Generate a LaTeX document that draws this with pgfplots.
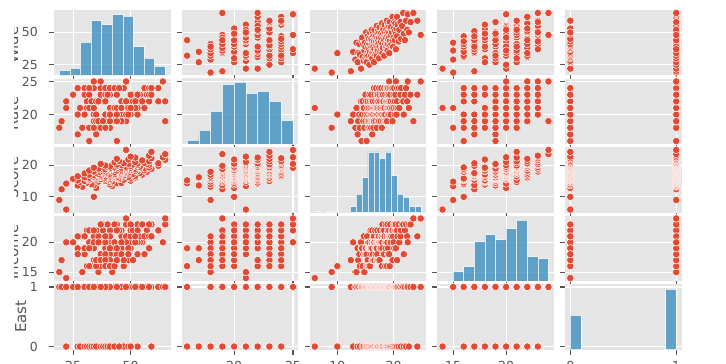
\documentclass[border=0pt]{standalone}
\usepackage{fontspec}
\setmainfont{DejaVu Sans}
\usepackage{pgfplots}
\pgfplotsset{compat=1.18}
\usepackage{pgfplotstable}
\definecolor{bggray}{HTML}{E5E5E5}
\definecolor{tickgray}{HTML}{555555}
\definecolor{scatred}{HTML}{E24A33}
\definecolor{histblue}{HTML}{348ABD}

\pgfplotstableread{
A B C D E
22 21 6.0 14 0
19 18 9.0 15 1
34 20 10.0 16 0
20 19 12.4 17 1
35 20 12.8 20 0
29 18 13.2 15 1
42 21 13.4 15 1
27 17 13.6 19 0
34 19 13.7 17 1
41 20 13.9 18 1
33 18 14.0 16 0
22 22 14.2 20 1
44 16 14.3 19 1
46 20 14.4 19 1
31 22 14.5 16 0
41 19 14.6 18 1
28 21 14.7 21 0
36 18 14.8 15 1
42 20 14.9 18 1
30 23 15.0 18 0
39 19 15.0 19 1
50 22 15.1 19 1
32 16 15.2 16 0
27 20 15.2 18 1
41 21 15.3 21 0
35 19 15.4 17 1
47 22 15.4 16 1
32 18 15.5 20 0
39 20 15.5 19 1
45 21 15.6 19 1
37 19 15.6 16 0
25 23 15.7 20 1
41 18 15.7 19 1
50 20 15.8 19 1
35 22 15.8 16 0
44 19 15.9 19 1
31 21 15.9 22 0
39 18 16.0 18 1
45 20 16.0 19 1
32 23 16.0 19 0
41 19 16.1 20 1
52 22 16.1 20 1
35 17 16.2 17 0
30 20 16.2 19 1
44 21 16.2 22 0
37 19 16.3 18 1
49 22 16.3 17 1
34 18 16.4 21 0
41 20 16.4 20 1
47 21 16.4 20 1
39 19 16.4 17 0
27 24 16.5 21 1
43 19 16.5 20 1
52 21 16.6 20 1
37 23 16.6 17 0
46 20 16.7 19 1
33 22 16.7 22 0
41 19 16.8 18 1
47 21 16.8 19 1
34 24 16.9 19 0
43 20 16.9 20 1
55 23 17.0 20 1
37 18 17.0 17 0
32 21 17.0 19 1
46 22 17.1 22 0
39 20 17.1 18 1
51 23 17.2 17 1
36 19 17.2 21 0
43 21 17.2 20 1
49 22 17.3 20 1
41 20 17.3 17 0
30 24 17.4 21 1
46 19 17.4 20 1
54 21 17.5 20 1
39 23 17.5 17 0
48 20 17.6 19 1
35 22 17.6 22 0
43 19 17.7 19 1
49 21 17.7 20 1
37 24 17.8 20 0
46 20 17.8 21 1
57 23 17.9 21 1
39 18 17.9 16 0
34 21 18.0 20 1
48 22 18.0 23 0
41 20 18.0 19 1
53 23 18.1 18 1
38 19 18.1 22 0
46 21 18.2 21 1
52 22 18.2 21 1
44 20 18.3 18 0
32 24 18.3 22 1
48 19 18.4 21 1
56 21 18.4 21 1
41 23 18.5 16 0
50 20 18.5 20 1
38 22 18.6 23 0
46 19 18.6 19 1
52 22 18.7 20 1
39 24 18.7 20 0
48 21 18.8 21 1
59 24 18.8 21 1
41 19 18.8 16 0
36 22 18.9 20 1
50 23 18.9 23 0
44 21 19.0 19 1
56 24 19.0 18 1
41 20 19.0 22 0
48 22 19.1 21 1
54 23 19.1 21 1
46 21 19.2 18 0
34 25 19.2 22 1
50 20 19.2 21 1
58 22 19.3 21 1
43 24 19.3 16 0
53 21 19.4 20 1
40 23 19.4 23 0
48 20 19.5 20 1
54 22 19.5 21 1
41 24 19.6 21 0
50 21 19.7 22 1
62 24 19.8 22 1
44 19 19.8 17 0
39 22 19.9 21 1
53 23 20.0 23 0
46 21 20.0 20 1
58 24 20.1 19 1
44 20 20.2 23 0
51 22 20.2 22 1
57 23 20.3 22 1
49 21 20.4 19 0
37 25 20.4 23 1
53 20 20.5 22 1
62 22 20.6 22 1
47 24 20.6 17 0
56 21 20.7 21 1
43 24 20.9 23 0
52 21 21.0 20 1
58 23 21.2 21 1
45 24 21.3 22 0
55 22 21.5 23 1
65 22 21.7 23 1
49 20 21.8 18 0
44 23 22.0 22 1
59 24 22.2 23 0
52 22 22.4 21 1
64 25 22.5 20 1
50 21 22.7 23 0
58 23 23.0 23 1
65 19 23.5 24 1
59 23 24.2 21 0
48 25 24.8 24 1
}\pairdata

\newcommand\tickfont{\fontsize{12.5}{15}\selectfont}
\newcommand\labfont{\fontsize{15}{18}\selectfont}

\pgfplotsset{
  pp/.style={scale only axis, width=116.5pt, height=65.5pt, anchor=north west,
    axis background/.style={fill=bggray},
    grid=major, major grid style={white, line width=1.1pt},
    axis line style={draw=none},
    tick align=outside, xtick pos=bottom, ytick pos=left,
    major tick length=5pt,
    tick style={tickgray, line width=1.1pt},
    tick label style={font=\tickfont, text=tickgray},
    /pgf/number format/assume math mode=true,
    yticklabel style={anchor=east, inner sep=0pt, xshift=-11pt},
    xticklabel style={anchor=north, inner sep=0pt, yshift=-6.5pt}},
  noxl/.style={xticklabels={}},
  noyl/.style={yticklabels={}},
  cA/.style={xmin=16.7, xmax=67.3, xtick={25,50}},
  cB/.style={xmin=15.55, xmax=25.45, xtick={20,25}},
  cC/.style={xmin=5.06, xmax=25.74, xtick={10,20}},
  cD/.style={xmin=13.5, xmax=24.5, xtick={15,20}},
  cE/.style={xmin=-0.05, xmax=1.05, xtick={0,1}},
  rA/.style={ymin=16.7, ymax=67.3, ytick={25,50}},
  rB/.style={ymin=15.55, ymax=25.45, ytick={20,25}},
  rC/.style={ymin=5.06, ymax=25.74, ytick={10,20}},
  rD/.style={ymin=13.5, ymax=24.5, ytick={15,20}},
  rE/.style={ymin=-0.05, ymax=1.05, ytick={0,1}},
  scat/.style={only marks, mark=*, mark size=3.7pt,
    mark options={fill=scatred, draw=white, line width=0.5pt}},
  hbar/.style={ybar interval, fill=histblue, fill opacity=0.75,
    draw=white, draw opacity=0.75, line width=0.5pt},
  hpane/.style={scale only axis, width=116.5pt, height=65.5pt,
    anchor=north west, hide axis, ymin=0, ymax=65.5},
}

% #1 x column, #2 y column, #3 left, #4 top, #5 options
\newcommand\scp[5]{%
  \begin{axis}[pp, c#1, r#2, at={(#3pt,-#4pt)}, #5]
    \addplot[scat] table[x=#1, y=#2] {\pairdata};
  \end{axis}}
% diagonal background: #1 column, #2 left, #3 top, #4 options
\newcommand\dgp[4]{%
  \begin{axis}[pp, c#1, r#1, at={(#2pt,-#3pt)}, #4]
    \addplot[draw=none, forget plot] coordinates {(0.5,0.5)};
  \end{axis}}

\begin{document}
\begin{tikzpicture}
\useasboundingbox (0,0) rectangle (726pt,-364pt);
\clip (0,0) rectangle (726pt,-364pt);

% ---- row 1 (A)
\dgp{A}{54}{10}{noxl}
\begin{axis}[hpane, cA, at={(54pt,-10pt)}]
  \addplot[hbar] coordinates {(19,5) (23.6,7.3) (28.2,33.3) (32.8,55) (37.4,51) (42,61) (46.6,59.3) (51.2,29) (55.8,17.3) (60.4,9.3) (65,0)};
\end{axis}
\scp{B}{A}{181.75}{10}{noxl,noyl}
\scp{C}{A}{309.5}{10}{noxl,noyl}
\scp{D}{A}{437.25}{10}{noxl,noyl}
\scp{E}{A}{565}{10}{noxl,noyl}

% ---- row 2 (B)
\scp{A}{B}{54}{78.5}{noxl}
\dgp{B}{181.75}{78.5}{noxl,noyl}
\begin{axis}[hpane, cB, at={(181.75pt,-78.5pt)}]
  \addplot[hbar] coordinates {(16,4) (17,14) (18,32.7) (19,59.7) (20,62) (21,50.7) (22,52.7) (23,42.7) (24,23.7) (25,0)};
\end{axis}
\scp{C}{B}{309.5}{78.5}{noxl,noyl}
\scp{D}{B}{437.25}{78.5}{noxl,noyl}
\scp{E}{B}{565}{78.5}{noxl,noyl}

% ---- row 3 (C)
\scp{A}{C}{54}{147}{noxl}
\scp{B}{C}{181.75}{147}{noxl,noyl}
\dgp{C}{309.5}{147}{noxl,noyl}
\begin{axis}[hpane, cC, at={(309.5pt,-147pt)}]
  \addplot[hbar] coordinates {(6.0,1) (7.048,0)};
  \addplot[hbar] coordinates {(8.096,1) (9.144,1) (10.192,0)};
  \addplot[hbar] coordinates {(12.288,6) (13.336,18.3) (14.384,35) (15.432,60.7) (16.48,60.7) (17.528,54) (18.576,60.7) (19.624,37) (20.672,18.3) (21.72,15.7) (22.768,6) (23.816,6) (24.864,0)};
\end{axis}
\scp{D}{C}{437.25}{147}{noxl,noyl}
\scp{E}{C}{565}{147}{noxl,noyl}

% ---- row 4 (D)
\scp{A}{D}{54}{215.5}{noxl}
\scp{B}{D}{181.75}{215.5}{noxl,noyl}
\scp{C}{D}{309.5}{215.5}{noxl,noyl}
\dgp{D}{437.25}{215.5}{noxl,noyl}
\begin{axis}[hpane, cD, at={(437.25pt,-215.5pt)}]
  \addplot[hbar] coordinates {(14,1) (15,9.3) (16,14.3) (17,39.3) (18,46.3) (19,41.3) (20,52.3) (21,61) (22,24.3) (23,22.3) (24,0)};
\end{axis}
\scp{E}{D}{565}{215.5}{noxl,noyl}

% ---- row 5 (E)
\scp{A}{E}{54}{284}{}
\scp{B}{E}{181.75}{284}{noyl}
\scp{C}{E}{309.5}{284}{noyl}
\scp{D}{E}{437.25}{284}{noyl}
\dgp{E}{565}{284}{noyl}
\begin{axis}[hpane, cE, at={(565pt,-284pt)}]
  \addplot[hbar] coordinates {(0,34.7) (0.1,0)};
  \addplot[hbar] coordinates {(0.9,60.7) (1.0,0)};
\end{axis}

% ---- row labels (only a sliver of the upper four shows, as in the reference)
\node[rotate=90, anchor=base, font=\labfont, text=tickgray] at (26pt,-316.5pt) {East};
\begin{scope}
  \clip (14.3pt,0pt) rectangle (18.6pt,-282pt);
  \node[rotate=90, anchor=base, font=\labfont, text=tickgray] at (18pt,-45pt) {Wide};
  \node[rotate=90, anchor=base, font=\labfont, text=tickgray] at (18pt,-113.5pt) {Rate};
  \node[rotate=90, anchor=base, font=\labfont, text=tickgray] at (18pt,-177.5pt) {Score};
  \node[rotate=90, anchor=base, font=\labfont, text=tickgray] at (18pt,-252pt) {Income};
\end{scope}
\fill[white] (0,0) rectangle (14.3pt,-282pt);
\end{tikzpicture}
\end{document}
